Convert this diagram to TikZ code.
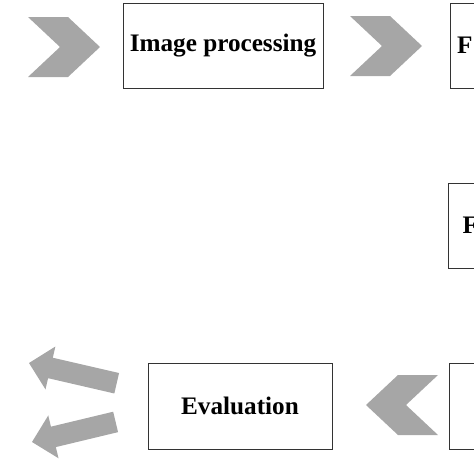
\documentclass[tikz,border=0pt]{standalone}
\usepackage{fontspec}
\setmainfont{Liberation Serif}
\usetikzlibrary{positioning}
\tikzset{
  box/.style={draw=black!80, line width=1pt, minimum width=200pt, minimum height=85pt,
    font=\bfseries\fontsize{25.2}{30}\selectfont},
  cutbox/.style={box, anchor=west, align=left, inner xsep=#1, text width=200pt-2*#1},
  chevron/.pic={\fill[black!35] (-72,-30) -- (-32,-30) -- (0,0) -- (-32,30) -- (-72,30) -- (-40,0) -- cycle;},
  fatarrow/.pic={\fill[black!35] (-#1,-10.5) -- (-22,-10.5) -- (-22,-22) -- (0,0) -- (-22,22) -- (-22,10.5) -- (-#1,10.5) -- cycle;}
}
\begin{document}
\begin{tikzpicture}[x=1pt, y=-1pt, node distance=309.5pt]
            \useasboundingbox (0,0) rectangle (474,474);
            \clip (0,0) rectangle (474,474);
            \node(IP) [box] at (223,45.5) {Image processing};
            \node(FE) [cutbox=7pt] at (449.5,45.5) {F};
            \node(FS) [cutbox=14pt] at (448,225.5) {F};
            \node(CL) [box, minimum height=86pt] at (549.5,406) {};
            \node(EV) [box, minimum width=184pt, minimum height=86pt, left of=CL] {Evaluation};
            \pic at (100,47) {chevron};
            \pic at (422,46) {chevron};
            \pic[rotate=180] at (366,405) {chevron};
            \pic[rotate=167] at (29,363) {fatarrow=90};
            \pic[rotate=193.5] at (32,442) {fatarrow=86};
            \end{tikzpicture}
\end{document}
